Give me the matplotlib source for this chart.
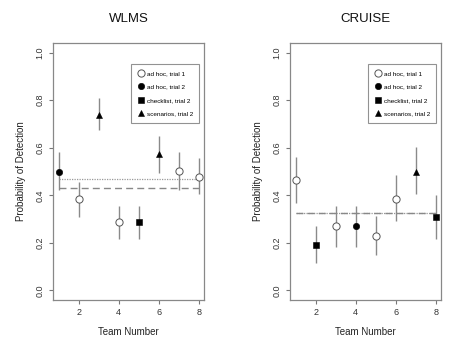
import matplotlib.pyplot as plt
from matplotlib.lines import Line2D

plt.rcParams['font.family'] = ['Liberation Sans', 'DejaVu Sans']

teams = [1, 2, 3, 4, 5, 6, 7, 8]

# WLMS: estimate, lower and upper bound, method per team
wlms_p = [0.50, 0.383, 0.738, 0.287, 0.287, 0.573, 0.502, 0.478]
wlms_lo = [0.423, 0.308, 0.675, 0.217, 0.217, 0.495, 0.423, 0.404]
wlms_hi = [0.58, 0.456, 0.809, 0.357, 0.357, 0.65, 0.58, 0.556]
wlms_type = ['adhoc2', 'adhoc1', 'scen', 'adhoc1', 'check', 'scen', 'adhoc1', 'adhoc1']
wlms_dotted = 0.468
wlms_dashed = 0.430

# CRUISE
cruise_p = [0.464, 0.193, 0.27, 0.27, 0.231, 0.386, 0.50, 0.31]
cruise_lo = [0.366, 0.116, 0.181, 0.181, 0.148, 0.29, 0.404, 0.217]
cruise_hi = [0.563, 0.27, 0.357, 0.357, 0.315, 0.484, 0.601, 0.40]
cruise_type = ['adhoc1', 'check', 'adhoc1', 'adhoc2', 'adhoc1', 'adhoc1', 'scen', 'check']
cruise_dotted = 0.324
cruise_dashed = 0.327

legend_labels = ['ad hoc, trial 1', 'ad hoc, trial 2', 'checklist, trial 2', 'scenarios, trial 2']
styles = {
    'adhoc1': dict(marker='o', ms=5.2, mfc='white', mec='#555555', mew=0.7),
    'adhoc2': dict(marker='o', ms=4.6, mfc='black', mec='black', mew=0.4),
    'check': dict(marker='s', ms=4.4, mfc='black', mec='black', mew=0.4),
    'scen': dict(marker='^', ms=4.6, mfc='black', mec='black', mew=0.4),
}
order = ['adhoc1', 'adhoc2', 'check', 'scen']

fig = plt.figure(figsize=(4.74, 3.54), dpi=100)
ax1 = fig.add_axes([0.112, 0.1525, 0.319, 0.726])
ax2 = fig.add_axes([0.612, 0.1525, 0.319, 0.726])

panels = [
    (ax1, 'WLMS', wlms_p, wlms_lo, wlms_hi, wlms_type, wlms_dotted, wlms_dashed),
    (ax2, 'CRUISE', cruise_p, cruise_lo, cruise_hi, cruise_type, cruise_dotted, cruise_dashed),
]

for ax, title, p, lo, hi, kinds, dot, dash in panels:
    ax.vlines(teams, lo, hi, color='#8a8a8a', lw=1.0, zorder=1)
    ax.plot([teams[0], teams[-1]], [dot, dot], color='#999999', lw=0.9, ls=(0, (1, 1)), zorder=1)
    ax.plot([teams[0], teams[-1]], [dash, dash], color='#888888', lw=1.0, ls=(0, (5, 3)), zorder=1)
    for t, v, k in zip(teams, p, kinds):
        ax.plot(t, v, ls='none', zorder=3, **styles[k])

    ax.set_xlim(0.72, 8.28)
    ax.set_ylim(-0.04, 1.04)
    ax.set_xticks([2, 4, 6, 8])
    ax.set_yticks([0.0, 0.2, 0.4, 0.6, 0.8, 1.0])
    ax.set_yticklabels(['0.0', '0.2', '0.4', '0.6', '0.8', '1.0'], rotation=90, va='center')
    ax.tick_params(colors='#777777', labelcolor='#333333', labelsize=6.5, length=3, width=0.8, pad=3)
    for s in ax.spines.values():
        s.set_color('#888888')
        s.set_linewidth(0.9)
    ax.set_xlabel('Team Number', fontsize=7, color='#222222', labelpad=7)
    ax.set_ylabel('Probability of Detection', fontsize=7, color='#222222', labelpad=7)
    ax.set_title(title, fontsize=9.5, color='#111111', pad=15)

    handles = [Line2D([], [], ls='none', **styles[k]) for k in order]
    leg = ax.legend(handles, legend_labels, loc='upper right', bbox_to_anchor=(0.967, 0.918),
                    fontsize=4.6, frameon=True, fancybox=False, borderpad=1.0,
                    labelspacing=1.25, handletextpad=0.5, handlelength=0.9, borderaxespad=0)
    leg.get_frame().set_edgecolor('#777777')
    leg.get_frame().set_linewidth(0.8)

plt.savefig('out.png', dpi=100)
